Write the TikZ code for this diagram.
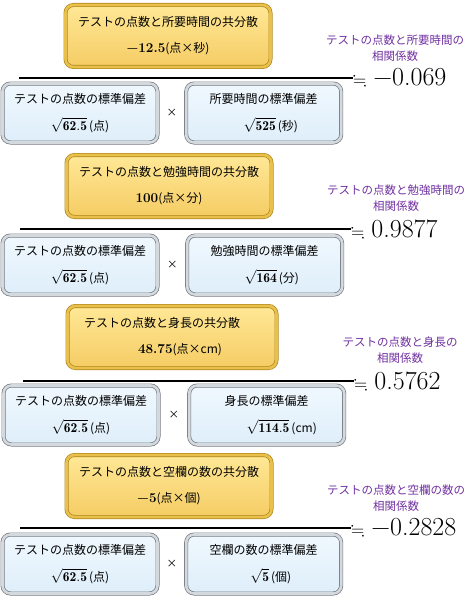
\documentclass[tikz,border=0pt]{standalone}
\usepackage{amssymb}
\usepackage{fontspec}
\newfontfamily\jp{Noto Sans CJK JP}
\usetikzlibrary{positioning, calc}

\definecolor{goldedge}{RGB}{175,135,30}
\definecolor{goldrim}{RGB}{232,192,75}
\definecolor{goldtop}{RGB}{255,232,150}
\definecolor{goldbot}{RGB}{245,204,100}
\definecolor{grayedge}{RGB}{115,122,130}
\definecolor{grayrim}{RGB}{212,217,222}
\definecolor{bluetop}{RGB}{240,248,254}
\definecolor{bluebot}{RGB}{222,238,250}
\definecolor{labpurple}{RGB}{112,48,160}

\newcommand{\bignum}{\fontsize{13.5}{26.5}\selectfont}
\begin{document}
\begin{tikzpicture}[
    x=1pt, y=-1pt,
    covbox/.style={draw=goldedge, line width=0.7pt, double=goldrim,
                   double distance=2.6pt, rounded corners=8pt,
                   top color=goldtop, bottom color=goldbot,
                   minimum width=205pt, minimum height=62pt, align=center,
                   font=\jp\fontsize{12}{26}\selectfont},
    sdbox/.style={draw=grayedge, line width=0.7pt, double=grayrim,
                  double distance=2.6pt, rounded corners=8pt,
                  top color=bluetop, bottom color=bluebot,
                  minimum width=155pt, minimum height=59pt, align=center,
                  font=\jp\fontsize{12}{26.5}\selectfont},
    timesmark/.style={font=\jp\fontsize{10.5}{12}\selectfont},
    corrlbl/.style={text=labpurple, align=center,
                    font=\jp\fontsize{11.5}{15.5}\selectfont},
    result/.style={anchor=west, inner sep=0pt,
                   font=\rmfamily\fontsize{26}{30}\selectfont},
    fracline/.style={line width=1.5pt},
]
\useasboundingbox (0,0) rectangle (474,602);

% ── 所要時間 ──────────────────────────────────────────────────────────────
\node[covbox] (cov1) at (168,36)
    {テストの点数と所要時間の共分散\\{\bignum\rmfamily\bfseries −12.5}(点×秒)};
\node[sdbox] (sdT1) at (80,113)
    {テストの点数の標準偏差\\{\bignum$\sqrt{\mathbf{62.5}}$}\,(点)};
\node[sdbox, right=28pt of sdT1] (sdB1)
    {所要時間の標準偏差\\\hspace*{14pt}{\bignum$\sqrt{\mathbf{525}}$}\,(秒)};
\node[timesmark] (x1) at ($(sdT1.east)!0.5!(sdB1.west)$) {×};
\node[corrlbl] (lbl1) at (395,48) {テストの点数と所要時間の\\相関係数};
\node[result] (res1) at (353,78)
    {{\fontsize{17}{17}\selectfont$\fallingdotseq$}\hspace{7pt}−0.069};
\coordinate (l1) at (19,78);
\draw[fracline] (l1) -- (res1.west);

% ── 勉強時間 ──────────────────────────────────────────────────────────────
\node[covbox] (cov2) at (169,186)
    {テストの点数と勉強時間の共分散\\{\bignum\rmfamily\bfseries 100}(点×分)};
\node[sdbox] (sdT2) at (80,265)
    {テストの点数の標準偏差\\{\bignum$\sqrt{\mathbf{62.5}}$}\,(点)};
\node[sdbox, right=29pt of sdT2] (sdB2)
    {勉強時間の標準偏差\\\hspace*{14pt}{\bignum$\sqrt{\mathbf{164}}$}\,(分)};
\node[timesmark] (x2) at ($(sdT2.east)!0.5!(sdB2.west)$) {×};
\node[corrlbl] (lbl2) at (396,198) {テストの点数と勉強時間の\\相関係数};
\node[result] (res2) at (351,229)
    {{\fontsize{17}{17}\selectfont$\fallingdotseq$}\hspace{7pt}0.9877};
\coordinate (l2) at (20,229);
\draw[fracline] (l2) -- (res2.west);

% ── 身長 ──────────────────────────────────────────────────────────────────
\node[covbox, minimum width=209pt] (cov3) at (172,337)
    {テストの点数と身長の共分散\hspace*{20pt}\\\hspace*{16pt}{\bignum\rmfamily\bfseries 48.75}(点×cm)};
\node[sdbox] (sdT3) at (81,415)
    {テストの点数の標準偏差\\{\bignum$\sqrt{\mathbf{62.5}}$}\,(点)};
\node[sdbox, right=30pt of sdT3] (sdB3)
    {身長の標準偏差\\\hspace*{30pt}{\bignum$\sqrt{\mathbf{114.5}}$}\,(cm)};
\node[timesmark] (x3) at ($(sdT3.east)!0.5!(sdB3.west)$) {×};
\node[corrlbl] (lbl3) at (400,350) {テストの点数と身長の\\相関係数};
\node[result] (res3) at (354,381)
    {{\fontsize{17}{17}\selectfont$\fallingdotseq$}\hspace{7pt}0.5762};
\coordinate (l3) at (23,381);
\draw[fracline] (l3) -- (res3.west);

% ── 空欄の数 ──────────────────────────────────────────────────────────────
\node[covbox] (cov4) at (169,486)
    {テストの点数と空欄の数の共分散\\{\bignum\rmfamily\bfseries −5}(点×個)};
\node[sdbox] (sdT4) at (80,564)
    {テストの点数の標準偏差\\{\bignum$\sqrt{\mathbf{62.5}}$}\,(点)};
\node[sdbox, right=28pt of sdT4] (sdB4)
    {空欄の数の標準偏差\\\hspace*{14pt}{\bignum$\sqrt{\mathbf{5}}$}\,(個)};
\node[timesmark] (x4) at ($(sdT4.east)!0.5!(sdB4.west)$) {×};
\node[corrlbl] (lbl4) at (396,498) {テストの点数と空欄の数の\\相関係数};
\node[result] (res4) at (351,528)
    {{\fontsize{17}{17}\selectfont$\fallingdotseq$}\hspace{7pt}−0.2828};
\coordinate (l4) at (20,528);
\draw[fracline] (l4) -- (res4.west);

\end{tikzpicture}
\end{document}
